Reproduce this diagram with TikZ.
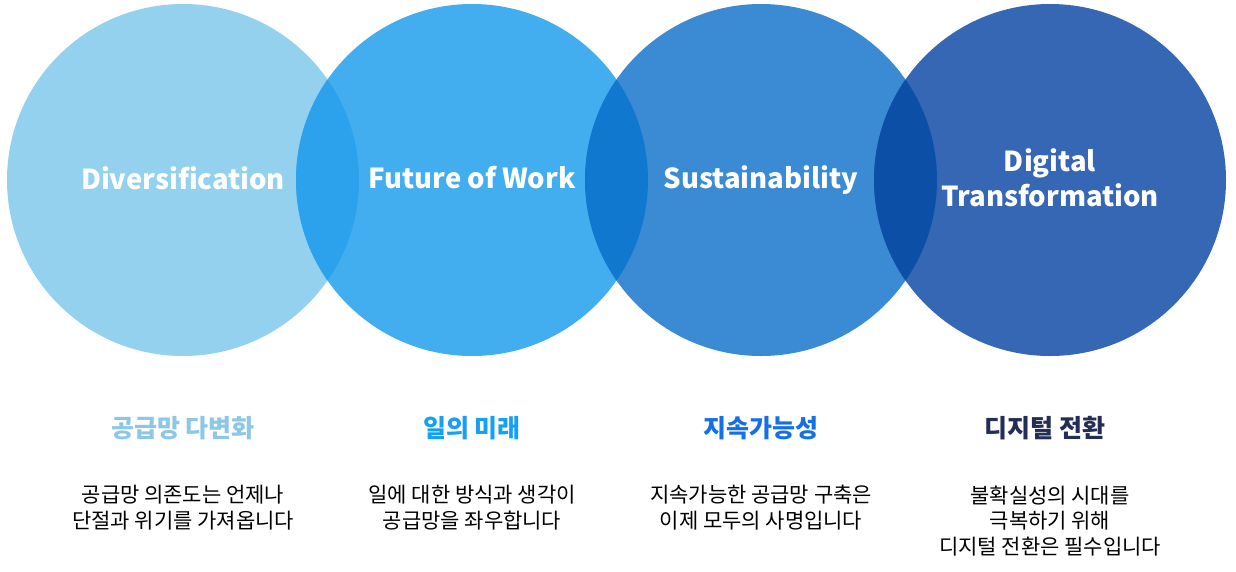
\documentclass[tikz,border=0pt]{standalone}
\usepackage{fontspec}
\setmainfont{Noto Sans CJK KR}

\definecolor{ringA}{HTML}{93D1EE}
\definecolor{ringB}{HTML}{42AEF0}
\definecolor{ringC}{HTML}{3A8AD4}
\definecolor{ringD}{HTML}{3567B4}
\definecolor{lensAB}{HTML}{2CA2EC}
\definecolor{lensBC}{HTML}{1178D0}
\definecolor{lensCD}{HTML}{0C4FA6}
\definecolor{headA}{HTML}{8CC7E8}
\definecolor{headB}{HTML}{14A0F4}
\definecolor{headC}{HTML}{156FE8}
\definecolor{headD}{HTML}{222E55}

\def\radius{176}
\def\xgap{289}
\def\ymid{180}

\tikzset{
 ring/.style={circle, minimum size=2*\radius pt, inner sep=0pt},
 ringtext/.style={text=white, align=center, font=\fontsize{27.5}{35}\selectfont\bfseries},
 headtext/.style={font=\fontsize{25}{28}\selectfont\bfseries},
 bodytext/.style={align=center, anchor=north, font=\fontsize{21}{25.5}\selectfont}
}

\begin{document}
\begin{tikzpicture}[x=1pt, y=-1pt]
 \useasboundingbox (0,0) rectangle (1236,571);
 % circles
 \foreach \i/\col in {1/ringA,2/ringB,3/ringC,4/ringD}
  \node[ring, fill=\col] (c\i) at ({183+(\i-1)*\xgap},\ymid) {};
 % overlaps
 \foreach \i/\j/\col in {1/2/lensAB,2/3/lensBC,3/4/lensCD} {
  \begin{scope}
   \clip (c\i.center) circle (\radius pt);
   \fill[\col] (c\j.center) circle (\radius pt);
  \end{scope}
 }
 % circle labels
 \node[ringtext] (t1) at ([yshift=2pt]c1.center) {Diversification};
 \node[ringtext] (t2) at ([yshift=2pt]c2.center) {Future of Work};
 \node[ringtext] (t3) at (c3.center) {Sustainability};
 \node[ringtext] (t4) at ([yshift=2pt]c4.center) {Digital\\Transformation};
 % headings
 \node[headtext, text=headA] (h1) at (183,428) {공급망 다변화};
 \node[headtext, text=headB] (h2) at (472,428) {일의 미래};
 \node[headtext, text=headC] (h3) at (761,428) {지속가능성};
 \node[headtext, text=headD] (h4) at (1045,428) {디지털 전환};
 % descriptions
 \node[bodytext] (d1) at (183,482) {공급망 의존도는 언제나\\단절과 위기를 가져옵니다};
 \node[bodytext] (d2) at (472,482) {일에 대한 방식과 생각이\\공급망을 좌우합니다};
 \node[bodytext] (d3) at (761,482) {지속가능한 공급망 구축은\\이제 모두의 사명입니다};
 \node[bodytext] (d4) at (1050,482) {불확실성의 시대를\\극복하기 위해\\디지털 전환은 필수입니다};
\end{tikzpicture}
\end{document}
